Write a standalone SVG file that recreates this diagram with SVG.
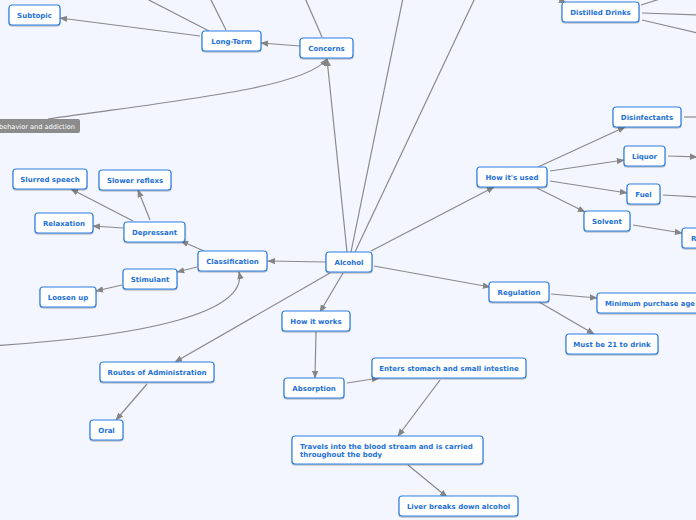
<svg xmlns="http://www.w3.org/2000/svg" width="696" height="520" viewBox="0 0 696 520">
<defs>
<marker id="ah" markerUnits="userSpaceOnUse" markerWidth="8" markerHeight="8" viewBox="0 0 10 10" refX="9" refY="5" orient="auto">
<path d="M0,1 L10,5 L0,9 z" fill="#858585"/>
</marker>
<filter id="sh" x="-10%" y="-20%" width="120%" height="160%">
<feDropShadow dx="0" dy="1" stdDeviation="0.6" flood-color="#000" flood-opacity="0.3"/>
</filter>
</defs>
<style>
.n rect{fill:#fff;stroke:#2f7fe0;stroke-width:1.2;filter:url(#sh)}
.n text{font-family:"DejaVu Sans",Verdana,sans-serif;font-weight:bold;font-size:7px;fill:#1d70d6;text-anchor:middle}
.c line,.c path{stroke:#8a8a8a;stroke-width:1.2;fill:none}
.a{marker-end:url(#ah)}
.lbl rect{fill:#8c8c8c}
.lbl text{font-family:"DejaVu Sans",Verdana,sans-serif;font-size:6.6px;fill:#fff;text-anchor:end}
</style>
<rect width="696" height="520" fill="#f3f6fe"/>
<g id="connectors" class="c">
<line class="a" x1="347" y1="252" x2="327" y2="59"/>
<line x1="351" y1="252" x2="403" y2="-2"/>
<line x1="355" y1="252" x2="475" y2="-2"/>
<line class="a" x1="371" y1="251" x2="494" y2="187"/>
<line class="a" x1="374" y1="266" x2="490" y2="287"/>
<line class="a" x1="326" y1="262" x2="268" y2="261"/>
<line class="a" x1="330" y1="273" x2="175" y2="362"/>
<line class="a" x1="343" y1="273" x2="320" y2="312"/>
<line class="a" x1="204" y1="251" x2="181" y2="241"/>
<line class="a" x1="197" y1="267" x2="177" y2="272"/>
<line class="a" x1="133" y1="221" x2="71" y2="189"/>
<line class="a" x1="150" y1="220" x2="138" y2="190"/>
<line class="a" x1="123" y1="228" x2="93" y2="226"/>
<line class="a" x1="122" y1="285" x2="96" y2="291"/>
<path class="a" d="M-10,346 C150,336 248,312 239,272"/>
<path class="a" d="M48,119 C180,100 305,88 327,59"/>
<line class="a" x1="300" y1="46" x2="261" y2="43"/>
<line x1="322" y1="37" x2="305" y2="-2"/>
<line class="a" x1="200" y1="36" x2="60" y2="18"/>
<line x1="209" y1="31" x2="145" y2="-2"/>
<line x1="226" y1="30" x2="210" y2="-2"/>
<line class="a" x1="538" y1="167" x2="625" y2="127"/>
<line class="a" x1="550" y1="171" x2="624" y2="160"/>
<line class="a" x1="550" y1="181" x2="627" y2="193"/>
<line class="a" x1="537" y1="188" x2="585" y2="212"/>
<line class="a" x1="633" y1="225" x2="682" y2="233"/>
<line x1="684" y1="117" x2="698" y2="117"/>
<line class="a" x1="668" y1="156" x2="697" y2="157"/>
<line x1="663" y1="195" x2="698" y2="197"/>
<line x1="642" y1="13" x2="698" y2="15"/>
<line x1="642" y1="20" x2="698" y2="33"/>
<line x1="641" y1="5" x2="660" y2="-1"/>
<line class="a" x1="548" y1="-6" x2="566" y2="3"/>
<line class="a" x1="551" y1="294" x2="597" y2="298"/>
<line class="a" x1="539" y1="302" x2="594" y2="334"/>
<line class="a" x1="316" y1="332" x2="315" y2="378"/>
<line class="a" x1="347" y1="383" x2="379" y2="378"/>
<line class="a" x1="440" y1="380" x2="398" y2="436"/>
<line class="a" x1="408" y1="465" x2="447" y2="497"/>
<line class="a" x1="147" y1="384" x2="116" y2="420"/>
</g>
<g id="label-behavior" class="lbl"><rect x="-10" y="119" width="90" height="14" rx="2"/><text x="75" y="128.5">behavior and addiction</text></g>
<g id="n-subtopic" class="n"><rect x="9" y="5" width="51" height="20" rx="3"/><text x="34.5" y="17.5">Subtopic</text></g>
<g id="n-longterm" class="n"><rect x="202" y="31" width="59" height="20" rx="3"/><text x="231.5" y="43.5">Long-Term</text></g>
<g id="n-concerns" class="n"><rect x="300" y="38" width="53" height="20" rx="3"/><text x="326.5" y="50.5">Concerns</text></g>
<g id="n-slurred" class="n"><rect x="13" y="169" width="74" height="20" rx="3"/><text x="50" y="181.5">Slurred speech</text></g>
<g id="n-slower" class="n"><rect x="99" y="170" width="72" height="20" rx="3"/><text x="135" y="182.5">Slower reflexs</text></g>
<g id="n-relax" class="n"><rect x="35" y="213" width="58" height="20" rx="3"/><text x="64" y="225.5">Relaxation</text></g>
<g id="n-depressant" class="n"><rect x="124" y="222" width="61" height="20" rx="3"/><text x="154.5" y="234.5">Depressant</text></g>
<g id="n-class" class="n"><rect x="198" y="251" width="69" height="20" rx="3"/><text x="232.5" y="263.5">Classification</text></g>
<g id="n-stimulant" class="n"><rect x="123" y="269" width="54" height="20" rx="3"/><text x="150" y="281.5">Stimulant</text></g>
<g id="n-loosen" class="n"><rect x="40" y="287" width="56" height="20" rx="3"/><text x="68" y="299.5">Loosen up</text></g>
<g id="n-alcohol" class="n"><rect x="326" y="252" width="46" height="20" rx="3"/><text x="349" y="264.5">Alcohol</text></g>
<g id="n-howworks" class="n"><rect x="282" y="311" width="68" height="20" rx="3"/><text x="316" y="323.5">How it works</text></g>
<g id="n-routes" class="n"><rect x="100" y="362" width="114" height="20" rx="3"/><text x="157" y="374.5">Routes of Administration</text></g>
<g id="n-oral" class="n"><rect x="90" y="420" width="33" height="20" rx="3"/><text x="106.5" y="432.5">Oral</text></g>
<g id="n-absorption" class="n"><rect x="284" y="378" width="60" height="20" rx="3"/><text x="314" y="390.5">Absorption</text></g>
<g id="n-enters" class="n"><rect x="372" y="358" width="154" height="20" rx="3"/><text x="449" y="370.5">Enters stomach and small intestine</text></g>
<g id="n-travels" class="n"><rect x="292" y="436" width="191" height="28" rx="3"/><text x="300" y="449" style="text-anchor:start">Travels into the blood stream and is carried</text><text x="300" y="457" style="text-anchor:start">throughout the body</text></g>
<g id="n-liver" class="n"><rect x="399" y="496" width="119" height="20" rx="3"/><text x="458.5" y="508.5">Liver breaks down alcohol</text></g>
<g id="n-distilled" class="n"><rect x="562" y="2" width="77" height="20" rx="3"/><text x="600.5" y="14.5">Distilled Drinks</text></g>
<g id="n-disinf" class="n"><rect x="613" y="107" width="68" height="20" rx="3"/><text x="647" y="119.5">Disinfectants</text></g>
<g id="n-liquor" class="n"><rect x="624" y="146" width="41" height="20" rx="3"/><text x="644.5" y="158.5">Liquor</text></g>
<g id="n-howused" class="n"><rect x="477" y="167" width="70" height="20" rx="3"/><text x="512" y="179.5">How it's used</text></g>
<g id="n-fuel" class="n"><rect x="627" y="184" width="33" height="20" rx="3"/><text x="643.5" y="196.5">Fuel</text></g>
<g id="n-solvent" class="n"><rect x="584" y="211" width="46" height="20" rx="3"/><text x="607" y="223.5">Solvent</text></g>
<g id="n-r" class="n"><rect x="682" y="228" width="60" height="20" rx="3"/><text x="691" y="240.5" style="text-anchor:start">R</text></g>
<g id="n-regulation" class="n"><rect x="489" y="282" width="60" height="20" rx="3"/><text x="519" y="294.5">Regulation</text></g>
<g id="n-minimum" class="n"><rect x="597" y="293" width="115" height="20" rx="3"/><text x="605" y="305.5" style="text-anchor:start" textLength="90" lengthAdjust="spacingAndGlyphs">Minimum purchase age</text></g>
<g id="n-must21" class="n"><rect x="566" y="334" width="92" height="20" rx="3"/><text x="612" y="346.5">Must be 21 to drink</text></g>
</svg>
